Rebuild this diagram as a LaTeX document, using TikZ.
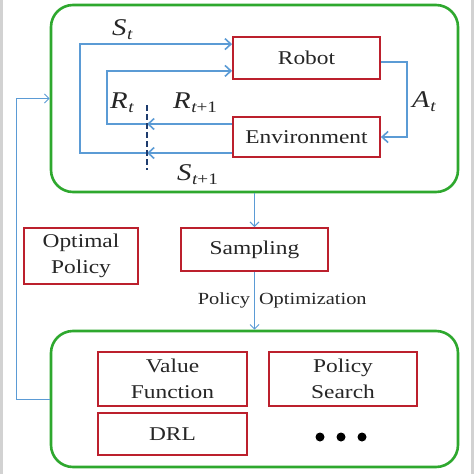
\documentclass[tikz,border=0pt]{standalone}
\usepackage{fontspec}
\setmainfont[FakeStretch=1.2]{Liberation Serif}
\usetikzlibrary{arrows.meta}
\definecolor{grn}{RGB}{46,168,46}
\definecolor{rd}{RGB}{188,32,45}
\definecolor{bl}{RGB}{91,155,213}
\definecolor{dbl}{RGB}{30,60,110}
\newcommand\lsub[1]{\kern0.5pt\raisebox{-4pt}{\fontsize{16}{16}\selectfont #1}}
\begin{document}
\begin{tikzpicture}[x=1pt,y=-1pt,
  group/.style={draw=grn,line width=2.6pt,rounded corners=22pt,inner sep=0pt},
  box/.style={draw=rd,line width=1.8pt,inner sep=0pt,align=center,text=black!85,
    font=\fontsize{19.5}{26}\selectfont},
  flow/.style={draw=bl,line width=1.6pt,-{Straight Barb[length=6pt,width=11pt,line width=1.6pt]}},
  thinflow/.style={draw=bl,line width=1pt,-{Straight Barb[length=4.5pt,width=9pt,line width=1pt]}},
  lab/.style={font=\fontsize{24}{24}\selectfont\itshape,inner sep=0pt,anchor=base west,text=black!85},
  plab/.style={font=\fontsize{17}{17}\selectfont,inner sep=4pt,text=black!85}
]
\fill[white] (0,0) rectangle (474,474);
\fill[gray!35] (0,0) rectangle (3,474);
\fill[gray!35] (471,0) rectangle (474,474);
\useasboundingbox (0,0) rectangle (474,474);

% groups
\node[group,minimum width=407pt,minimum height=187pt] (top) at (254.5,98.5) {};
\node[group,minimum width=407pt,minimum height=136pt] (bot) at (254.5,399) {};

% boxes
\node[box,minimum width=147pt,minimum height=42pt] (robot) at (306.5,58) {Robot};
\node[box,minimum width=147pt,minimum height=40pt] (env) at (306.5,137) {Environment};
\node[box,minimum width=147pt,minimum height=43pt] (samp) at (254.5,249.5) {Sampling};
\node[box,minimum width=114pt,minimum height=56pt] (opt) at (81,256) {Optimal\\Policy};
\node[box,minimum width=149pt,minimum height=54pt] (vf) at (172.5,379) {Value\\Function};
\node[box,minimum width=148pt,minimum height=54pt] (ps) at (343,379) {Policy\\Search};
\node[box,minimum width=149pt,minimum height=42pt] (drl) at (172.5,434) {DRL};

% dots
\node[circle,fill=black,inner sep=0pt,minimum size=9pt] (d1) at (320,437) {};
\node[circle,fill=black,inner sep=0pt,minimum size=9pt] (d2) at (341,437) {};
\node[circle,fill=black,inner sep=0pt,minimum size=9pt] (d3) at (362,437) {};

% junction points on the dashed line
\coordinate (sj) at (147,153);
\coordinate (rj) at (147,124);
\coordinate (sl) at (80,153);
\coordinate (rl) at (107,124);
\coordinate (dtop) at (147,105);
\coordinate (dbot) at (147,170);
\coordinate (fb) at (16,399);

% loops
\draw[flow] (sj) -- (sl) |- ([yshift=-8pt]robot.north west);
\draw[flow] (rj) -- (rl) |- ([yshift=9pt]robot.south west);
\draw[flow] (env.west |- sj) -- (sj);
\draw[flow] (env.west |- rj) -- (rj);
\draw[flow] ([yshift=-4pt]robot.east) -- ++(26,0) |- (env.east);
\draw[dbl,line width=1.6pt,dash pattern=on 6pt off 3pt] (dtop) -- (dbot);

% flow between groups
\draw[thinflow] (top.south) -- (samp.north);
\draw[thinflow] (samp.south) -- node[plab,left]{Policy} node[plab,right]{Optimization} (bot.north);
\draw[thinflow] (bot.west) -- (fb) |- (top.west);

% labels
\node[lab] (lst) at (112,35) {S\lsub{t}};
\node[lab] (lrt) at (110,108) {R\lsub{t}};
\node[lab] (lrt1) at (173,108) {R\lsub{t\upshape +1}};
\node[lab] (lst1) at (177,180) {S\lsub{t\upshape +1}};
\node[lab] (lat) at (412,107) {A\lsub{t}};
\end{tikzpicture}
\end{document}
